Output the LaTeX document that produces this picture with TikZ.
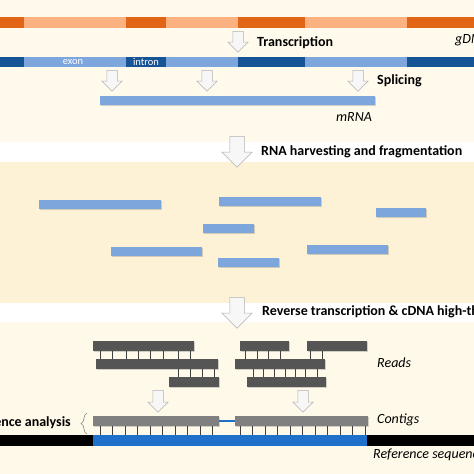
\documentclass[tikz,border=0pt]{standalone}
\usepackage{fontspec}
\setmainfont{Carlito}
\usetikzlibrary{shapes.arrows,shadows,decorations.pathreplacing}

\definecolor{gdark}{RGB}{226,101,22}
\definecolor{glight}{RGB}{251,178,128}
\definecolor{bdark}{RGB}{23,84,150}
\definecolor{blight}{RGB}{125,166,220}
\definecolor{readgray}{RGB}{85,85,85}
\definecolor{contiggray}{RGB}{128,128,128}
\definecolor{refblue}{RGB}{31,112,200}
\definecolor{bgtop}{RGB}{255,250,236}
\definecolor{bgmid}{RGB}{253,242,214}
\definecolor{bgbot}{RGB}{255,249,233}

\tikzset{
  steplabel/.style={font=\bfseries\fontsize{14}{16}\selectfont, anchor=west, inner sep=0pt},
  namelabel/.style={font=\itshape\fontsize{14}{16}\selectfont, inner sep=0pt},
  downarrow/.style={single arrow, shape border rotate=270, draw=gray!60, fill=gray!6,
    line width=0.5pt, inner sep=5pt, single arrow head extend=5pt,
    minimum height=21pt, anchor=tail},
  bigarrow/.style={downarrow, inner sep=7pt, single arrow head extend=8pt, minimum height=31pt},
  barshadow/.style={drop shadow={shadow xshift=1.2pt, shadow yshift=-1.2pt, opacity=0.35}},
  fragment/.style={rectangle, fill=blight, inner sep=0pt, minimum height=9pt, anchor=north west, barshadow},
  read/.style={rectangle, fill=readgray, inner sep=0pt, minimum height=9.5pt, anchor=north west, barshadow},
  contig/.style={rectangle, fill=contiggray, inner sep=0pt, minimum height=10pt, anchor=north west, barshadow},
  tick/.style={draw=gray!50!black, line width=0.6pt}
}

\begin{document}
\begin{tikzpicture}[x=1pt, y=-1pt]
    \useasboundingbox (0,0) rectangle (474,474);
    \clip (0,0) rectangle (474,474);

    % background bands
    \fill[bgtop] (0,0) rectangle (474,142);
    \fill[white] (0,142) rectangle (474,162);
    \fill[bgmid] (0,162) rectangle (474,303);
    \fill[white] (0,303) rectangle (474,322);
    \fill[bgbot] (0,322) rectangle (474,474);

    % gDNA and pre-mRNA
    \foreach \a/\b/\c in {0/24/gdark, 24/126/glight, 126/166/gdark, 166/238/glight,
                          238/305/gdark, 305/407/glight, 407/474/gdark}
        \fill[\c] (\a,17) rectangle (\b,28);
    \foreach \a/\b/\c in {0/24/bdark, 24/126/blight, 126/166/bdark, 166/238/blight,
                          238/305/bdark, 305/407/blight, 407/474/bdark}
        \fill[\c] (\a,57) rectangle (\b,67);
    \node[text=white, font=\fontsize{10.5}{11}\selectfont, inner sep=0pt] (exon) at (73,62) {exon};
    \node[text=white, font=\fontsize{10.5}{11}\selectfont, inner sep=0pt] (intron) at (146,62) {intron};
    \node[namelabel, anchor=west] (gdna) at (455,40) {gDNA};

    \node[downarrow] (transcr) at (238,31) {};
    \node[steplabel] (transcrlabel) at (257,43) {Transcription};

    \node[downarrow] (splice1) at (112,70) {};
    \node[downarrow] (splice2) at (207,70) {};
    \node[downarrow] (splice3) at (358,70) {};
    \node[steplabel] (splicelabel) at (377,81) {Splicing};

    \node[fragment, minimum width=275pt] (mrna) at (100,96) {};
    \node[namelabel] (mrnalabel) at (354,117) {mRNA};

    % fragmentation
    \node[bigarrow] (harvest) at (237,136) {};
    \node[steplabel] (harvestlabel) at (261,152) {RNA harvesting and fragmentation};

    \node[fragment, minimum width=122pt] (f1) at (39,200) {};
    \node[fragment, minimum width=102pt] (f2) at (219,197) {};
    \node[fragment, minimum width=50pt] (f3) at (376,208) {};
    \node[fragment, minimum width=51pt] (f4) at (203,224) {};
    \node[fragment, minimum width=91pt] (f5) at (111,247) {};
    \node[fragment, minimum width=81pt] (f6) at (307,245) {};
    \node[fragment, minimum width=61pt] (f7) at (218,258) {};

    % sequencing
    \node[bigarrow] (revtr) at (237,297) {};
    \node[steplabel] (revtrlabel) at (262,312) {Reverse transcription \& cDNA high-throughput sequencing};

    \node[read, minimum width=101pt] (r1) at (93,341) {};
    \node[read, minimum width=122pt] (r2) at (96,359) {};
    \node[read, minimum width=50pt] (r3) at (169,377) {};
    \node[read, minimum width=49pt] (r4) at (240,341) {};
    \node[read, minimum width=60pt] (r5) at (307,341) {};
    \node[read, minimum width=90pt] (r6) at (235,359) {};
    \node[read, minimum width=79pt] (r7) at (247,377) {};
    \node[namelabel, anchor=west] (readlabel) at (377,363) {Reads};

    \foreach \x in {100,112,126,138,150,163,178,190}
        \draw[tick] (r1.south -| \x,0) -- (r2.north -| \x,0);
    \foreach \x in {178,190,202,214}
        \draw[tick] (r2.south -| \x,0) -- (r3.north -| \x,0);
    \foreach \x in {245,257,268,280}
        \draw[tick] (r4.south -| \x,0) -- (r6.north -| \x,0);
    \foreach \x in {310,322}
        \draw[tick] (r5.south -| \x,0) -- (r6.north -| \x,0);
    \foreach \x in {253,263,274,285,295,305,317}
        \draw[tick] (r6.south -| \x,0) -- (r7.north -| \x,0);

    \node[downarrow, minimum height=22pt] (assemble1) at (158,390) {};
    \node[downarrow, minimum height=22pt] (assemble2) at (303,390) {};

    % contigs and reference
    \node[contig, minimum width=126pt] (c1) at (93,416) {};
    \node[contig, minimum width=133pt] (c2) at (235,416) {};
    \draw[refblue, line width=2pt] (c1.east) -- (c2.west);
    \node[namelabel, anchor=west] (contiglabel) at (377,420) {Contigs};

    \node[rectangle, fill=black, inner sep=0pt, minimum width=474pt, minimum height=11pt, anchor=north west] (ref) at (0,435) {};
    \node[rectangle, fill=refblue, inner sep=0pt, minimum width=274pt, minimum height=11pt, anchor=north west] (refmatch) at (93,435) {};
    \node[namelabel, anchor=west] (reflabel) at (373,455) {Reference sequence};

    \foreach \x in {100,112.5,125,137.5,150,162.5,175,187.5,200,212.5}
        \draw[tick] (c1.south -| \x,0) -- (ref.north -| \x,0);
    \foreach \x in {240,252.5,265,277.5,290,302.5,315,327.5,340,352.5,365}
        \draw[tick] (c2.south -| \x,0) -- (ref.north -| \x,0);

    \draw[gray, line width=0.5pt, decorate, decoration={brace, amplitude=6pt}] (87,434) coordinate (bracelow) -- (87,413) coordinate (bracehigh);
    \node[font=\bfseries\fontsize{14}{16}\selectfont, anchor=east, inner sep=0pt] (analysis) at (71,423) {Sequence analysis};
\end{tikzpicture}
\end{document}
